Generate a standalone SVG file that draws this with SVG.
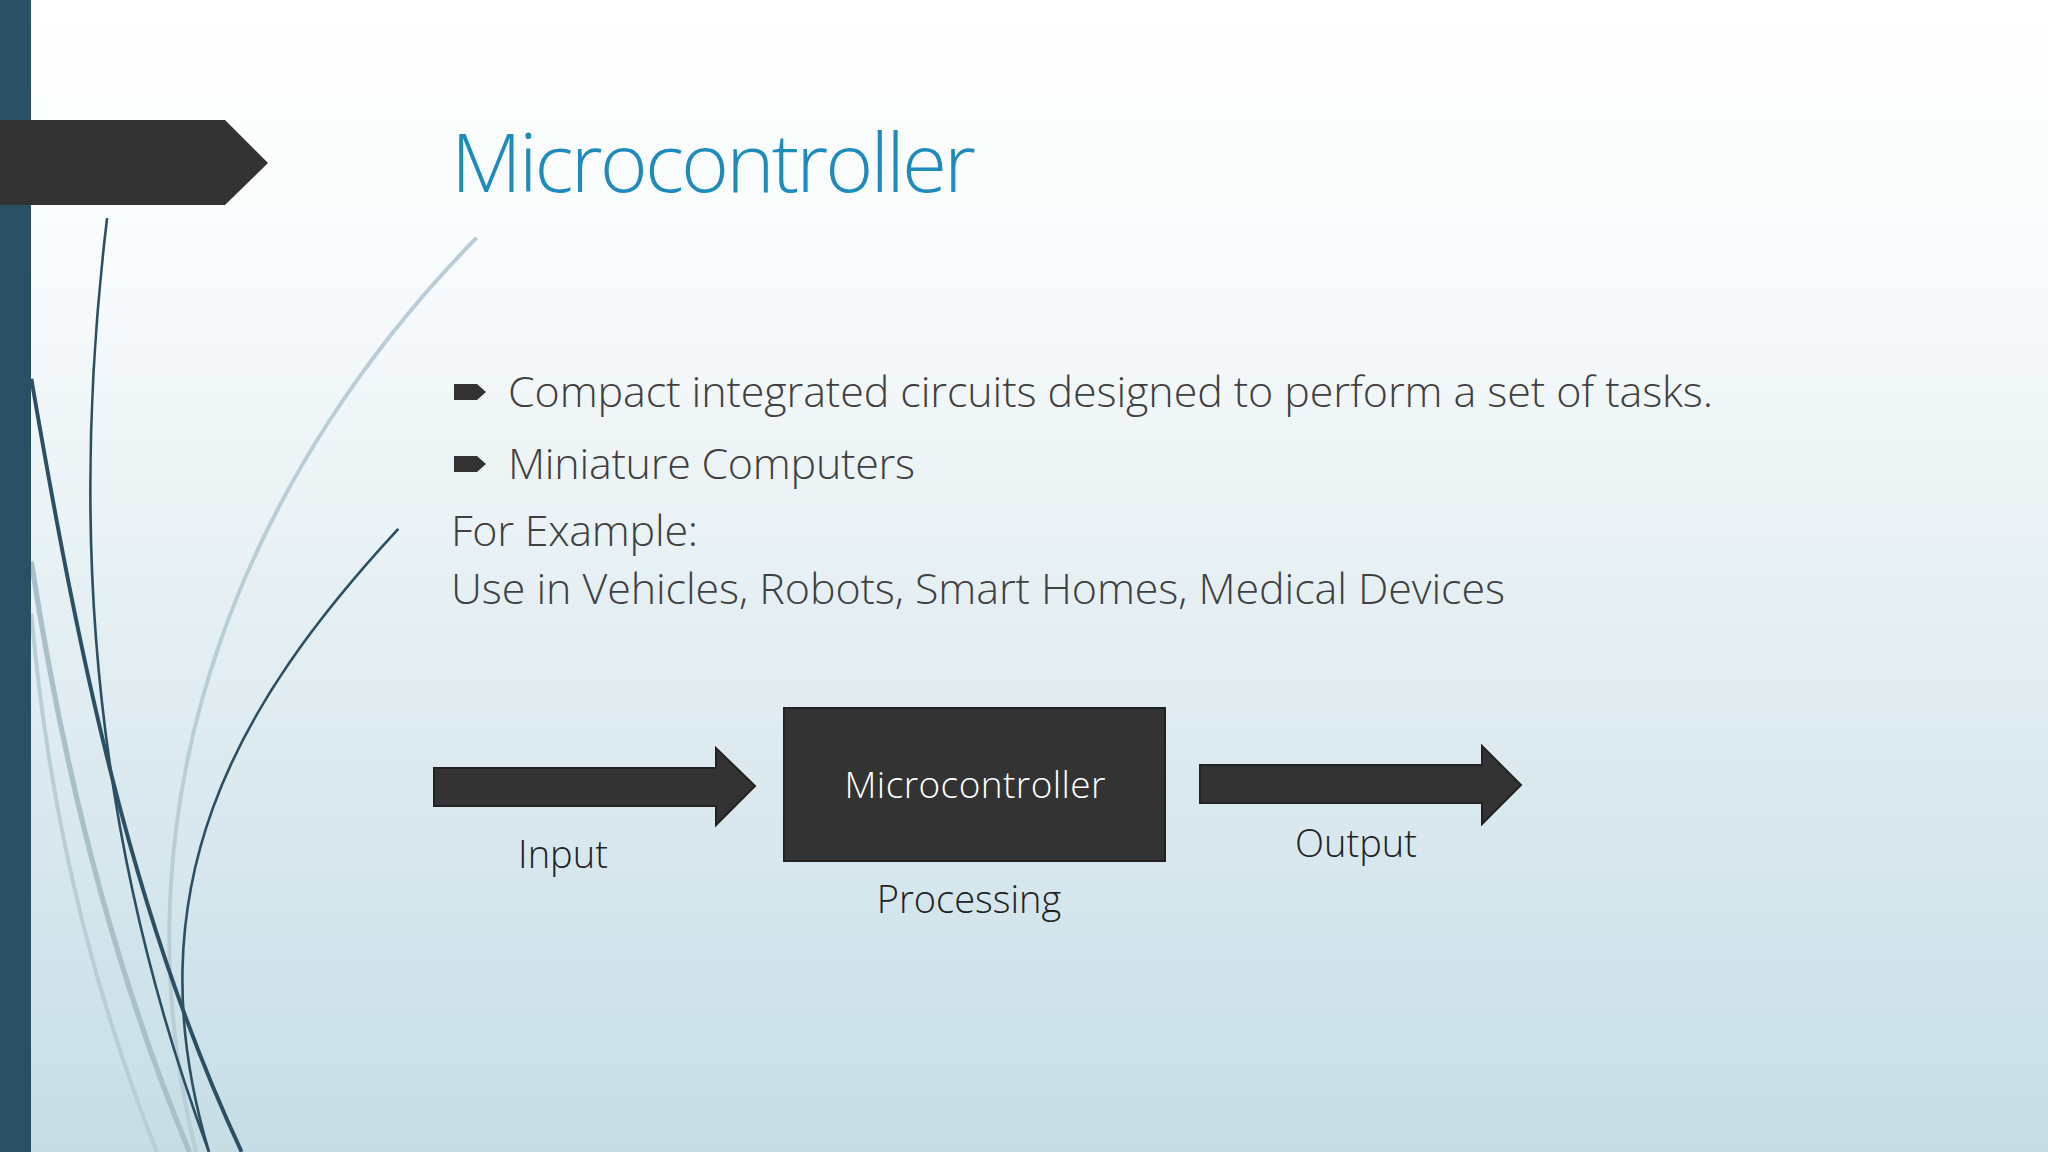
<svg xmlns="http://www.w3.org/2000/svg" width="2048" height="1152" viewBox="0 0 2048 1152">
<defs>
<linearGradient id="bg" x1="0" y1="0" x2="0" y2="1">
<stop offset="0" stop-color="#ffffff"/>
<stop offset="0.25" stop-color="#f7fafb"/>
<stop offset="1" stop-color="#c6dde6"/>
</linearGradient>
<style>
.t{font-family:"Open Sans","Noto Sans",sans-serif;fill:#404040;font-size:43px;font-weight:300}
.d{fill:#333333;stroke:#222;stroke-width:2}
.w{font-family:"Open Sans","Noto Sans",sans-serif;fill:#ffffff;font-size:37px;font-weight:300}
.c{font-family:"Open Sans","Noto Sans",sans-serif;fill:#222;font-size:38px;font-weight:300}
</style>
</defs>
<rect width="2048" height="1152" fill="url(#bg)"/>
<g id="curves" fill="none" transform="scale(1.306)">
<path d="M365,182 C200,350 80,600 150,882" stroke="#b8cdd5" stroke-width="3"/>
<path d="M24,430 C50,600 90,750 145,882" stroke="#a9c0c8" stroke-width="4"/>
<path d="M24,470 C40,650 80,780 120,882" stroke="#b8cdd5" stroke-width="3"/>
<path d="M82,167 C60,350 55,600 160,882" stroke="#2c4f63" stroke-width="2"/>
<path d="M24,290 C60,500 100,700 185,882" stroke="#2c4f63" stroke-width="3"/>
<path d="M305,405 C180,540 100,680 160,882" stroke="#2c4f63" stroke-width="2"/>
</g>
<rect id="sidebar" x="0" y="0" width="31" height="1152" fill="#2c4f63"/>
<polygon id="banner" points="0,120 225,120 268,163 225,205 0,205" fill="#333333"/>
<text id="title" x="451" y="192" font-family="Open Sans, Noto Sans, sans-serif" font-size="82" font-weight="300" fill="#1f8bbd" textLength="525">Microcontroller</text>
<g id="bullets">
<polygon points="454,384 477,384 486,392 477,400 454,400" fill="#333"/>
<text class="t" x="508" y="407" textLength="1205">Compact integrated circuits designed to perform a set of tasks.</text>
<polygon points="454,456 477,456 486,464 477,472 454,472" fill="#333"/>
<text class="t" x="508" y="479" textLength="407">Miniature Computers</text>
<text class="t" x="451" y="546" textLength="247">For Example:</text>
<text class="t" x="451" y="604" textLength="1054">Use in Vehicles, Robots, Smart Homes, Medical Devices</text>
</g>
<g id="connectors">
<polygon class="d" points="434,768 716,768 716,748 755,786 716,825 716,806 434,806"/>
<polygon class="d" points="1200,765 1482,765 1482,746 1521,785 1482,824 1482,803 1200,803"/>
</g>
<g id="input"><text class="c" x="563" y="868" text-anchor="middle">Input</text></g>
<g id="mcu">
<rect class="d" x="784" y="708" width="381" height="153"/>
<text class="w" x="975" y="798" text-anchor="middle" textLength="261">Microcontroller</text>
<text class="c" x="969" y="913" text-anchor="middle">Processing</text>
</g>
<g id="output"><text class="c" x="1356" y="857" text-anchor="middle">Output</text></g>
</svg>
